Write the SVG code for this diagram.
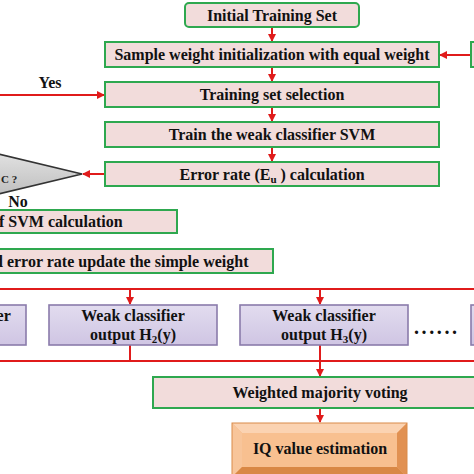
<svg xmlns="http://www.w3.org/2000/svg" width="474" height="474" viewBox="0 0 474 474">
<defs>
<style>
.t{font-family:"Liberation Serif","Times New Roman",serif;font-weight:bold;font-size:16px;fill:#111}
.ts{font-family:"Liberation Serif","Times New Roman",serif;font-weight:bold;font-size:11px;fill:#222}
.pk{fill:#f2dcdb;stroke:#2ea84f;stroke-width:2}
.lv{fill:#d9d1ea;stroke:#8a7bab;stroke-width:1.6}
.ln{stroke:#e01b1b;stroke-width:2;fill:none}
</style>
<marker id="ah" markerUnits="userSpaceOnUse" markerWidth="8" markerHeight="8" refX="7" refY="4" orient="auto">
<path d="M0,0 L8,4 L0,8 Z" fill="#e01b1b"/>
</marker>
<linearGradient id="tg" x1="0" y1="0" x2="0" y2="1">
<stop offset="0" stop-color="#ececec"/>
<stop offset="1" stop-color="#b4b4b4"/>
</linearGradient>
<linearGradient id="lg" x1="0" y1="0" x2="0" y2="1">
<stop offset="0" stop-color="#e2dcef"/>
<stop offset="1" stop-color="#cfc5e3"/>
</linearGradient>
</defs>
<rect width="474" height="474" fill="#fff"/>

<g id="connectors">
<line class="ln" x1="272" y1="27" x2="272" y2="41" marker-end="url(#ah)"/>
<line class="ln" x1="272" y1="67" x2="272" y2="81" marker-end="url(#ah)"/>
<line class="ln" x1="272" y1="107" x2="272" y2="121" marker-end="url(#ah)"/>
<line class="ln" x1="272" y1="147" x2="272" y2="161" marker-end="url(#ah)"/>
<line class="ln" x1="470" y1="55" x2="440" y2="55" marker-end="url(#ah)"/>
<line class="ln" x1="0" y1="95" x2="104" y2="95" marker-end="url(#ah)"/>
<line class="ln" x1="105" y1="174" x2="83" y2="174" marker-end="url(#ah)"/>
<line class="ln" x1="0" y1="289" x2="474" y2="289"/>
<line class="ln" x1="130" y1="289" x2="130" y2="304" marker-end="url(#ah)"/>
<line class="ln" x1="320" y1="289" x2="320" y2="304" marker-end="url(#ah)"/>
<line class="ln" x1="0" y1="361" x2="474" y2="361"/>
<line class="ln" x1="130" y1="345" x2="130" y2="361"/>
<line class="ln" x1="320" y1="345" x2="320" y2="376" marker-end="url(#ah)"/>
<line class="ln" x1="320" y1="408" x2="320" y2="422" marker-end="url(#ah)"/>
</g>

<g id="n-initial"><rect class="pk" x="185" y="3" width="174" height="24" rx="4"/><text class="t" x="272" y="21" text-anchor="middle">Initial Training Set</text></g>
<g id="n-sample"><rect class="pk" x="105" y="42" width="334" height="25"/><text class="t" x="272" y="60" text-anchor="middle">Sample weight initialization with equal weight</text></g>
<g id="n-right"><rect class="pk" x="471" y="42" width="30" height="25"/></g>
<g id="n-select"><rect class="pk" x="105" y="82" width="334" height="25"/><text class="t" x="272" y="100" text-anchor="middle">Training set selection</text></g>
<g id="n-train"><rect class="pk" x="105" y="122" width="334" height="25"/><text class="t" x="272" y="140" text-anchor="middle">Train the weak classifier SVM</text></g>
<g id="n-error"><rect class="pk" x="105" y="162" width="334" height="24"/><text class="t" x="272" y="180" text-anchor="middle">Error rate (E<tspan font-size="11" dy="3">u</tspan><tspan dy="-3"> ) calculation</tspan></text></g>
<g id="n-decision"><polygon points="-60,140 82,174 -60,208" fill="url(#tg)" stroke="#333" stroke-width="1.5"/><text class="ts" x="1" y="183">C ?</text></g>
<g id="l-yes"><text class="t" x="50" y="88" text-anchor="middle">Yes</text></g>
<g id="l-no"><text class="t" x="18" y="207" text-anchor="middle">No</text></g>
<g id="n-svm"><rect class="pk" x="-10" y="210" width="187" height="23"/><text class="t" x="-1" y="227">f SVM calculation</text></g>
<g id="n-update"><rect class="pk" x="-10" y="249" width="283" height="24"/><text class="t" x="-6" y="267">d error rate update the simple weight</text></g>

<g id="n-h1"><rect class="lv" x="-142" y="305" width="168" height="40" style="fill:url(#lg)"/><text class="t" x="-41" y="321" text-anchor="middle">Weak classifier</text></g>
<g id="n-h2"><rect class="lv" x="49" y="305" width="168" height="40" style="fill:url(#lg)"/><text class="t" x="133" y="321" text-anchor="middle">Weak classifier</text><text class="t" x="133" y="340" text-anchor="middle">output H<tspan font-size="11" dy="3">2</tspan><tspan dy="-3">(y)</tspan></text></g>
<g id="n-h3"><rect class="lv" x="240" y="305" width="168" height="40" style="fill:url(#lg)"/><text class="t" x="324" y="321" text-anchor="middle">Weak classifier</text><text class="t" x="324" y="340" text-anchor="middle">output H<tspan font-size="11" dy="3">3</tspan><tspan dy="-3">(y)</tspan></text></g>
<g id="n-dots"><text class="t" x="414" y="334" letter-spacing="2.6" style="font-size:20px">......</text></g>
<g id="n-hn"><rect class="lv" x="471" y="305" width="168" height="40" style="fill:url(#lg)"/></g>

<g id="n-vote"><rect class="pk" x="153" y="377" width="340" height="31"/><text class="t" x="320" y="398" text-anchor="middle">Weighted majority voting</text></g>
<g id="n-iq">
<rect x="232" y="423" width="175" height="54" fill="#f4b27e"/>
<polygon points="232,423 407,423 397,433 242,433" fill="#fbd3b2"/>
<polygon points="232,423 242,433 242,467 232,477" fill="#f8c59a"/>
<polygon points="407,423 407,477 397,467 397,433" fill="#e19152"/>
<polygon points="232,477 242,467 397,467 407,477" fill="#d98845"/>
<rect x="242" y="433" width="155" height="34" fill="#f8c090"/>
<rect x="232" y="423" width="175" height="54" fill="none" stroke="#d98b4a" stroke-width="1"/>
<text class="t" x="320" y="454" text-anchor="middle">IQ value estimation</text>
</g>
</svg>
